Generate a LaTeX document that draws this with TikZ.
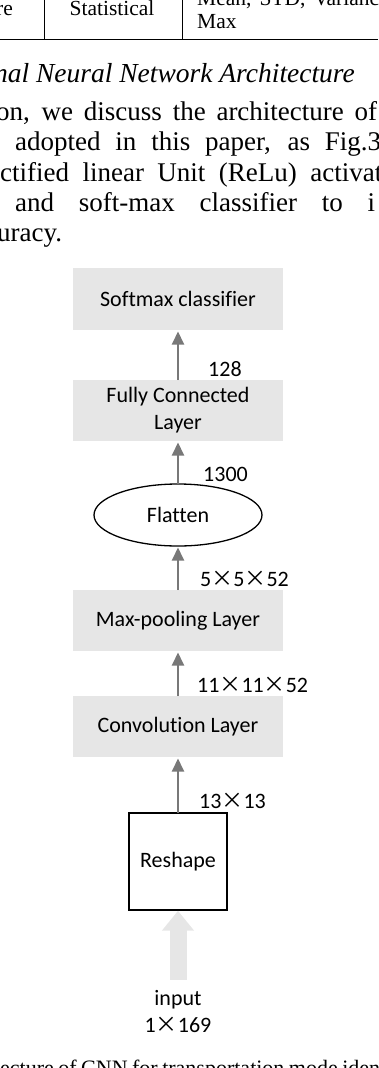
\documentclass[tikz,border=0pt]{standalone}
\usepackage{fontspec}
\setmainfont{Liberation Serif}
\newfontfamily\calibfont[Ligatures={NoCommon,NoContextual}]{Carlito}
\newfontfamily\cjk{Noto Sans CJK SC}
\usetikzlibrary{positioning, arrows.meta, shapes.geometric}
\definecolor{boxgray}{RGB}{230,230,230}
\definecolor{arrgray}{RGB}{120,120,120}
\newcommand{\by}{{\cjk ×}}

\begin{document}
\begin{tikzpicture}[
    x=1pt, y=-1pt,
    layer/.style={rectangle, fill=boxgray, minimum width=210pt, minimum height=61pt, align=center, font=\calibfont\fontsize{22}{27}\selectfont, inner sep=0pt, outer sep=0pt},
    flat/.style={ellipse, draw, line width=1.3pt, minimum width=168pt, minimum height=62pt, font=\calibfont\fontsize{22}{27}\selectfont, inner sep=0pt, outer sep=0pt},
    reshapebox/.style={rectangle, draw, line width=1.3pt, minimum width=98pt, minimum height=97pt, font=\calibfont\fontsize{22}{27}\selectfont, inner sep=0pt, outer sep=0pt},
    arr/.style={-{Triangle[width=12pt,length=13pt]}, line width=2pt, draw=arrgray, fill=arrgray, shorten >=1.5pt},
    bigarr/.style={-{Triangle[width=31pt,length=20pt]}, line width=17pt, draw=boxgray, shorten >=0.7pt},
    dims/.style={font=\calibfont\fontsize{22}{27}\selectfont, inner sep=0pt, anchor=base west},
    para/.style={font=\fontsize{27}{30}\selectfont, inner sep=0pt, anchor=base west},
    tab/.style={font=\fontsize{21.5}{23}\selectfont, inner sep=0pt},
]
\path[use as bounding box, clip] (0,0) rectangle (378,1068);

% table fragment and text around the figure
\draw[line width=1.3pt] (0,39.5) -- (378,39.5);
\draw[line width=1pt] (44,0) -- (44,39.5);
\draw[line width=1pt] (182,0) -- (182,39.5);
\node[tab, anchor=base east] (feat) at (13,15) {Feature};
\node[tab, anchor=base] (stat) at (112,15) {Statistical};
\node[tab, anchor=base west, align=left] (vals) at (197,28) {Mean,\hspace{8pt}STD,\hspace{8pt}Variance\\Max};
\node[para, anchor=base east, font=\fontsize{27.5}{30}\selectfont\itshape] (head) at (355,82) {Convolutional Neural Network Architecture};
\node[para] (l1) at (-4,120) {\makebox[381pt][s]{on, we discuss the architecture of}};
\node[para] (l2) at (15,150) {\makebox[366pt][s]{adopted in this paper, as Fig.3}};
\node[para] (l3) at (0,181) {\makebox[382pt][s]{ctified linear Unit (ReLu) activat}};
\node[para] (l4) at (15,211) {\makebox[360pt][s]{and soft-max classifier to i}};
\node[para] (l5) at (-3,241) {uracy.};
\node[para, font=\fontsize{22}{26}\selectfont] (cap) at (0,1075) {\makebox[380pt][s]{ecture of CNN for transportation mode iden}};

% network
\node[layer, minimum height=62pt] (softmax) at (178,299) {Softmax classifier};
\node[layer, below=50pt of softmax] (fc) {Fully Connected\\Layer};
\node[flat, below=43pt of fc] (flatten) {Flatten};
\node[layer, below=44pt of flatten] (maxpool) {Max-pooling Layer};
\node[layer, below=45pt of maxpool] (conv) {Convolution Layer};
\node[reshapebox, below=56pt of conv] (reshape) {Reshape};
\coordinate[below=70pt of reshape] (in);
\node[dims, anchor=base, align=center] (inlabel) at ([yshift=-52pt]in) {input\\1\by169};

\draw[arr] (fc) -- (softmax);
\draw[arr] (flatten) -- (fc);
\draw[arr] (maxpool) -- (flatten);
\draw[arr] (conv) -- (maxpool);
\draw[arr] (reshape) -- (conv);
\draw[bigarr] (in) -- (reshape);

% sizes between the layers
\node[dims] (d1) at ([xshift=30pt, yshift=4pt]fc.north) {128};
\node[dims] (d2) at ([xshift=25pt, yshift=3pt]flatten.north) {1300};
\node[dims] (d3) at ([xshift=22pt, yshift=4pt]maxpool.north) {5\by5\by52};
\node[dims] (d4) at ([xshift=19pt, yshift=4pt]conv.north) {11\by11\by52};
\node[dims] (d5) at ([xshift=21pt, yshift=5pt]reshape.north) {13\by13};
\end{tikzpicture}
\end{document}
